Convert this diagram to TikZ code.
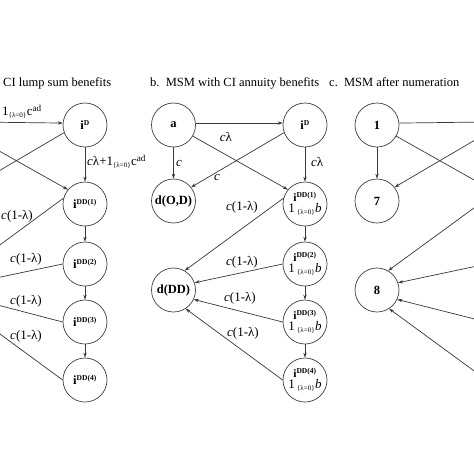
\documentclass[tikz,border=0pt]{standalone}
\usepackage{fontspec}
\setmainfont{Liberation Serif}
\usetikzlibrary{arrows.meta}
\newcommand{\mysup}[1]{\textsuperscript{\fontsize{7.5}{8}\selectfont\bfseries #1}}
\newcommand{\mysub}[1]{\textsubscript{\fontsize{7}{8}\selectfont #1}}
\begin{document}
\begin{tikzpicture}[x=1pt,y=-1pt,
  st/.style={circle,draw=black!75,line width=0.7pt,minimum size=44pt,inner sep=0pt,
    font=\fontsize{12.5}{13}\selectfont\bfseries},
  stb/.style={st,align=center,font=\fontsize{11.5}{12}\selectfont\bfseries},
  ar/.style={draw=black!78,line width=0.7pt,-{Stealth[length=5pt,width=3.4pt]}},
  lab/.style={font=\fontsize{13}{14}\selectfont,inner sep=0pt},
  ttl/.style={font=\fontsize{12.5}{15}\selectfont,anchor=base west,inner sep=0pt}]
\useasboundingbox (0,0) rectangle (474,474);
\fill[white] (0,0) rectangle (474,474);
\clip (0,0) rectangle (474,474);

% titles
\node[ttl] (ta) at (3,86.5) {CI lump sum benefits};
\node[ttl] (tb) at (150,86.5) {b.\ \ MSM with CI annuity benefits};
\node[ttl] (tc) at (329,86.5) {c.\ \ MSM after numeration};

% ---------------- panel a (cropped) ----------------
\node[st] (aD) at (85,125) {i\mysup{D}};
\node[st] (a1) at (85,204) {i\mysup{DD(1)}};
\node[st] (a2) at (85,264) {i\mysup{DD(2)}};
\node[st] (a3) at (85,322) {i\mysup{DD(3)}};
\node[st] (a4) at (85,380) {i\mysup{DD(4)}};
\coordinate (aAe) at (-25,122);
\coordinate (aAs) at (-27.5,136);
\coordinate (aOD) at (-29.2,187.5);
\coordinate (aDD1) at (-35.5,271);
\coordinate (aDD2) at (-25.5,282.5);
\coordinate (aDD3) at (-25.5,299);
\coordinate (aDD4) at (-35.5,308);

\draw[ar] (aAe) -- (aD.175);
\draw[ar] (aD.200) -- (aOD);
\draw[ar] (aAs) -- (a1.140);
\draw[ar] (aD) -- (a1);
\draw[ar] (a1) -- (a2);
\draw[ar] (a2) -- (a3);
\draw[ar] (a3) -- (a4);
\draw[ar] (a1.165) -- (aDD1);
\draw[ar] (a2.west) -- (aDD2);
\draw[ar] (a3.west) -- (aDD3);
\draw[ar] (a4.west) -- (aDD4);

\node[lab,anchor=west] (la0) at (2,112) {1\mysub{\{λ=0\}}c\textsuperscript{ad}};
\node[lab,anchor=west] (laD) at (87,162) {\textit{c}λ+1\mysub{\{λ=0\}}c\textsuperscript{ad}};
\node[lab,anchor=east] (la1) at (33,216) {\textit{c}(1-λ)};
\node[lab,anchor=east] (la2) at (42,259) {\textit{c}(1-λ)};
\node[lab,anchor=east] (la3) at (42,301) {\textit{c}(1-λ)};
\node[lab,anchor=east] (la4) at (42,336) {\textit{c}(1-λ)};

% ---------------- panel b ----------------
\node[st] (ba) at (173.5,125) {a};
\node[st] (bD) at (305,125) {i\mysup{D}};
\node[st] (bOD) at (173.5,201) {d(O,D)};
\node[st] (bDD) at (173.5,290) {d(DD)};
\node[stb] (b1) at (305,204) {i\mysup{DD(1)}\\[-1pt]{\mdseries\fontsize{13}{13}\selectfont 1\,\mysub{\{λ=0\}}\textit{b}}};
\node[stb] (b2) at (305,264) {i\mysup{DD(2)}\\[-1pt]{\mdseries\fontsize{13}{13}\selectfont 1\,\mysub{\{λ=0\}}\textit{b}}};
\node[stb] (b3) at (305,322) {i\mysup{DD(3)}\\[-1pt]{\mdseries\fontsize{13}{13}\selectfont 1\,\mysub{\{λ=0\}}\textit{b}}};
\node[stb] (b4) at (305,380) {i\mysup{DD(4)}\\[-1pt]{\mdseries\fontsize{13}{13}\selectfont 1\,\mysub{\{λ=0\}}\textit{b}}};

\draw[ar] (ba.5) -- (bD.175);
\draw[ar] (ba) -- (bOD);
\draw[ar] (ba.-30) -- (b1.140);
\draw[ar] (bD.200) -- (bOD.38);
\draw[ar] (bD) -- (b1);
\draw[ar] (b1) -- (b2);
\draw[ar] (b2) -- (b3);
\draw[ar] (b3) -- (b4);
\draw[ar] (b1.165) -- (bDD.60);
\draw[ar] (b2.west) -- (bDD.19);
\draw[ar] (b3.west) -- (bDD.-25);
\draw[ar] (b4.west) -- (bDD.-57);

\node[lab] (lbc1) at (179,163) {\textit{c}};
\node[lab] (lbcl1) at (226,137) {\textit{c}λ};
\node[lab] (lbc2) at (217,177) {\textit{c}};
\node[lab,anchor=west] (lbcl2) at (311,162) {\textit{c}λ};
\node[lab] (lb1) at (242,207) {\textit{c}(1-λ)};
\node[lab] (lb2) at (242,262) {\textit{c}(1-λ)};
\node[lab] (lb3) at (240,298) {\textit{c}(1-λ)};
\node[lab] (lb4) at (243,333) {\textit{c}(1-λ)};

% ---------------- panel c (cropped) ----------------
\node[st] (c1) at (377,125) {1};
\node[st] (c7) at (377,201) {7};
\node[st] (c8) at (377,290) {8};
\coordinate (cDw) at (487,122);
\coordinate (cDs) at (487.8,132.5);
\coordinate (c11) at (491.6,189.9);
\coordinate (cK1) at (487.2,198.3);
\coordinate (cK2) at (486.5,264);
\coordinate (cK3) at (486.5,322);
\coordinate (cK4) at (486.5,380);

\draw[ar] (c1.5) -- (cDw);
\draw[ar] (c1) -- (c7);
\draw[ar] (c1.-30) -- (c11);
\draw[ar] (cDs) -- (c7.38);
\draw[ar] (cK1) -- (c8.60);
\draw[ar] (cK2) -- (c8.19);
\draw[ar] (cK3) -- (c8.-25);
\draw[ar] (cK4) -- (c8.-57);
\end{tikzpicture}
\end{document}
